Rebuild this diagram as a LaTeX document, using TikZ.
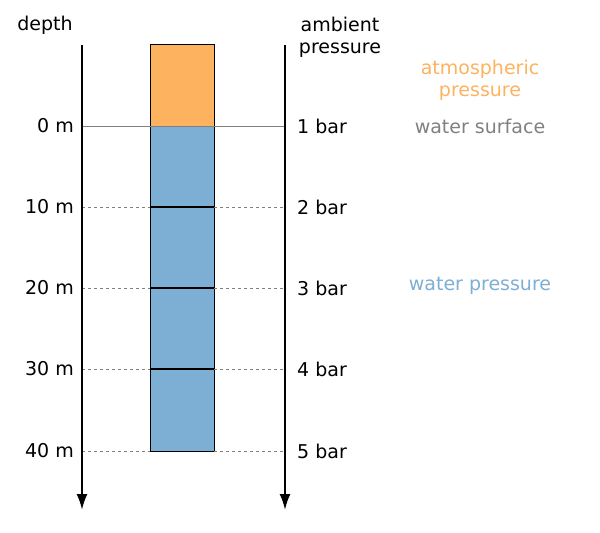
\documentclass[tikz,border=0pt]{standalone}
\usepackage{fontspec}
\setmainfont{DejaVu Sans}
\usetikzlibrary{arrows.meta}
\begin{document}
\begin{tikzpicture}[x=1pt,y=-1pt,font=\fontsize{19}{22}\selectfont,
  axis/.style={line width=2.2pt,-{Latex[length=16pt,width=11pt]}},
  lvl/.style={gray,dashed,line width=0.9pt},
  lab/.style={inner sep=0pt}]
\useasboundingbox (0,0) rectangle (600,533);
\fill[orange!60!yellow!90!white,draw=black] (150,44) rectangle (214,126);
\fill[fill={rgb,255:red,125;green,174;blue,211},draw=black] (150,126) rectangle (214,451);
\fill[fill={rgb,255:red,253;green,178;blue,95},draw=black] (150,44) rectangle (214,126);
\coordinate (la) at (82,45); \coordinate (lb) at (82,510);
\coordinate (ra) at (285,45); \coordinate (rb) at (285,510);
\draw[gray,line width=1pt] (82,126) -- (285,126);
\foreach \y in {207,288,369,451}{
  \draw[lvl] (82,\y) -- (150,\y);
  \draw[lvl] (214,\y) -- (285,\y);}
\foreach \y in {207,288,369}{\draw[line width=1.2pt] (150,\y) -- (214,\y);}
\draw[axis] (la) -- (lb);
\draw[axis] (ra) -- (rb);
\foreach \y/\d/\b in {126/0/1,207/10/2,288/20/3,369/30/4,451/40/5}{
  \node[lab,anchor=east] (d\d) at (74,\y) {\d\ m};
  \node[lab,anchor=west] (b\b) at (297,\y) {\b\ bar};}
\node[lab] (depth) at (45,25) {depth};
\node[align=center,inner sep=0pt] (amb) at (340,37) {ambient\\pressure};
\node[align=center,inner sep=0pt,text={rgb,255:red,253;green,178;blue,95}] (atm) at (480,80) {atmospheric\\pressure};
\node[lab,text=gray] (ws) at (480,126) {water surface};
\node[lab,text={rgb,255:red,125;green,174;blue,211}] (wp) at (480,286) {water pressure};
\end{tikzpicture}
\end{document}
